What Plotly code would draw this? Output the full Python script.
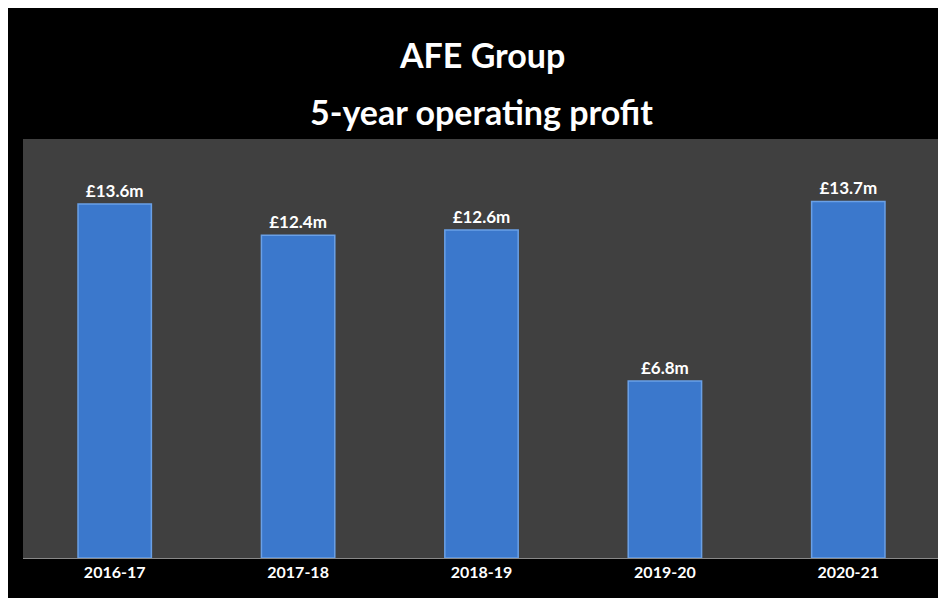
import plotly.graph_objects as go

years = ["2016-17", "2017-18", "2018-19", "2019-20", "2020-21"]
profit = [13.6, 12.4, 12.6, 6.8, 13.7]
labels = ["<b>£13.6m</b>", "<b>£12.4m</b>", "<b>£12.6m</b>", "<b>£6.8m</b>", "<b>£13.7m</b>"]

fig = go.Figure(go.Bar(
    x=years, y=profit, text=labels, textposition="outside",
    textfont=dict(family="Lato", size=17, color="white"),
    marker=dict(color="#3b78cc", line=dict(color="#6aa0e6", width=1.5)),
    width=0.4, cliponaxis=False,
))
fig.update_layout(
    width=946, height=598,
    paper_bgcolor="black", plot_bgcolor="#404040",
    margin=dict(l=15, r=14, t=131, b=48),
    xaxis=dict(showgrid=False, showline=True, linecolor="#888",
               tickfont=dict(family="Lato", size=16, color="white"),
               tickprefix="<b>", ticksuffix="</b>"),
    yaxis=dict(range=[0, 16.1], showgrid=False, showticklabels=False, zeroline=False),
    showlegend=False,
)
fig.add_annotation(text="<b>AFE Group</b>", x=0.5, xref="paper", y=112, yref="paper",
                   yshift=0, showarrow=False, font=dict(family="Lato", size=34, color="white"))
fig.add_annotation(text="<b>5-year operating profit</b>", x=0.5, xref="paper", y=1.12, yref="paper",
                   showarrow=False, font=dict(family="Lato", size=34, color="white"))
fig.layout.annotations[0].y = 1.255
fig.write_html("out.html")
